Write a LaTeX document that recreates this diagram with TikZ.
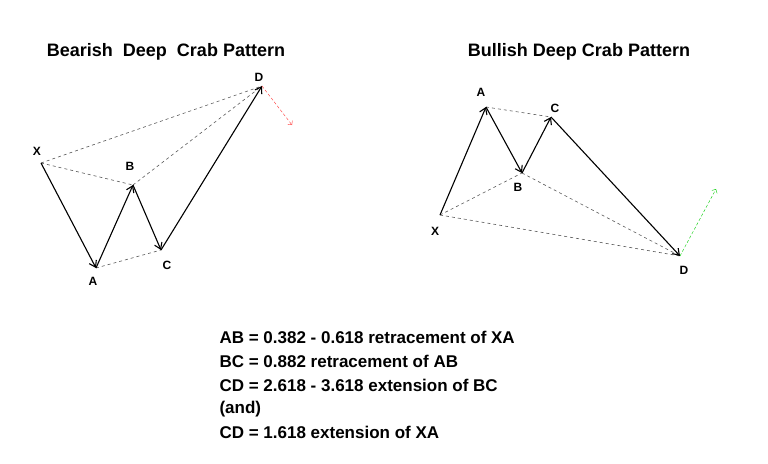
\documentclass[tikz,border=0pt]{standalone}
\usepackage{fontspec}
\setmainfont{Liberation Sans}
\usetikzlibrary{arrows.meta}
\begin{document}
\begin{tikzpicture}[x=1pt,y=-1pt,
  leg/.style={-{Straight Barb[length=6pt,width=8pt]},line width=1.1pt},
  dsh/.style={dashed,gray!70!black,line width=0.6pt},
  lbl/.style={font=\bfseries\fontsize{12}{14}\selectfont},
  ttl/.style={font=\bfseries\fontsize{18}{20}\selectfont},
  txt/.style={font=\bfseries\fontsize{17}{20}\selectfont,anchor=west}]
\useasboundingbox (0,0) rectangle (768,463);
% left
\coordinate (lX) at (41,163); \coordinate (lA) at (96,268); \coordinate (lB) at (133,185);
\coordinate (lC) at (161,250); \coordinate (lD) at (262,86); \coordinate (lE) at (292,125);
\draw[dsh] (lX)--(lD); \draw[dsh] (lX)--(lB); \draw[dsh] (lB)--(lD); \draw[dsh] (lA)--(lC);
\draw[leg] (lX)--(lA); \draw[leg] (lA)--(lB); \draw[leg] (lB)--(lC); \draw[leg] (lC)--(lD);
\draw[red!80,densely dashed,-{Straight Barb[length=3pt]}] (lD)--(lE);
\node[lbl] (tlX) at (37,151) {X}; \node[lbl] (tlA) at (93,281) {A}; \node[lbl] (tlB) at (130,166) {B};
\node[lbl] (tlC) at (167,265) {C}; \node[lbl] (tlD) at (259,77) {D};
\node[ttl] (t1) at (166,52) {Bearish\ \ Deep\ \ Crab Pattern};
% right
\coordinate (rX) at (440,215); \coordinate (rA) at (486,107); \coordinate (rB) at (522,173);
\coordinate (rC) at (551,117); \coordinate (rD) at (680,256); \coordinate (rE) at (716,189);
\draw[dsh] (rX)--(rD); \draw[dsh] (rX)--(rB); \draw[dsh] (rB)--(rD); \draw[dsh] (rA)--(rC);
\draw[leg] (rX)--(rA); \draw[leg] (rA)--(rB); \draw[leg] (rB)--(rC); \draw[leg] (rC)--(rD);
\draw[green!80!black,densely dashed,-{Straight Barb[length=3pt]}] (rD)--(rE);
\node[lbl] (trX) at (435,231) {X}; \node[lbl] (trA) at (481,92) {A}; \node[lbl] (trB) at (518,187) {B};
\node[lbl] (trC) at (555,108) {C}; \node[lbl] (trD) at (684,270) {D};
\node[ttl] (t2) at (579,52) {Bullish Deep Crab Pattern};
% text
\node[txt] (l1) at (216,337) {AB = 0.382 - 0.618 retracement of XA};
\node[txt] (l2) at (216,361) {BC = 0.882 retracement of AB};
\node[txt] (l3) at (216,385) {CD = 2.618 - 3.618 extension of BC};
\node[txt] (l4) at (216,409) {(and)};
\node[txt] (l5) at (216,432) {CD = 1.618 extension of XA};
\end{tikzpicture}
\end{document}
